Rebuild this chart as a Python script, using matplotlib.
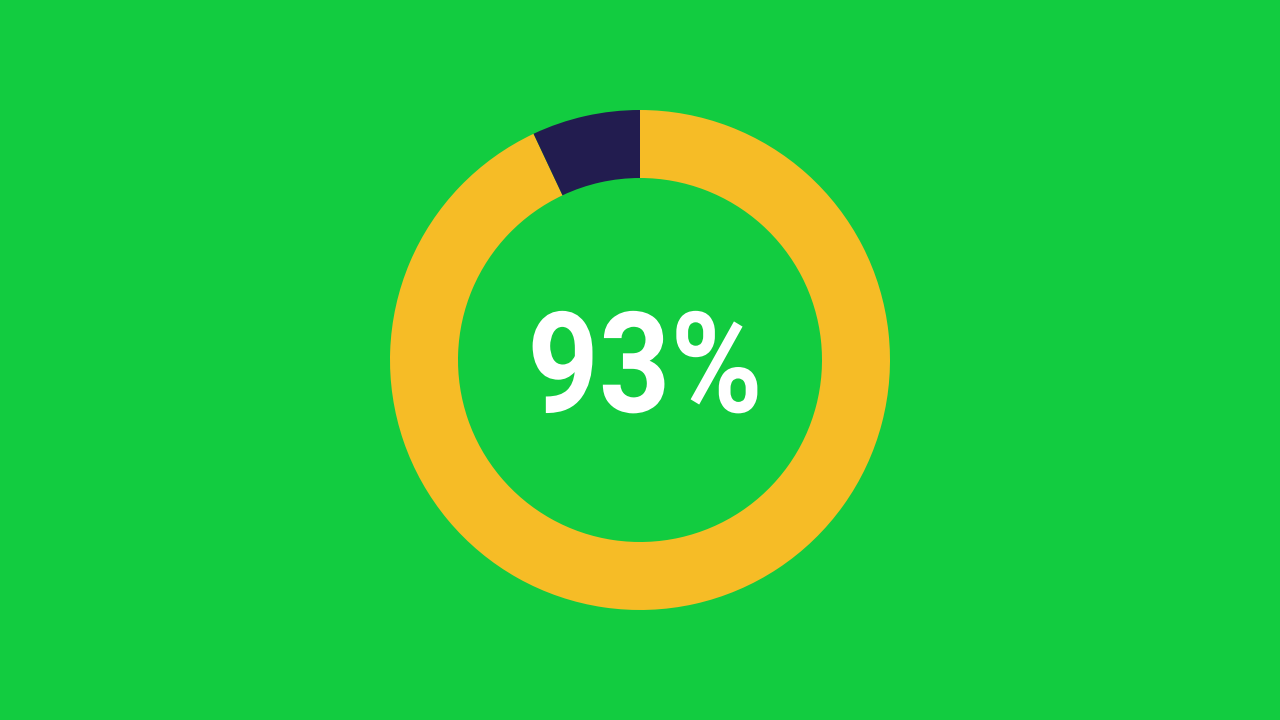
import matplotlib
matplotlib.use("Agg")
import matplotlib.pyplot as plt
from matplotlib.patheffects import AbstractPathEffect
from matplotlib.transforms import Affine2D

labels = ["Complete", "Remaining"]
values = [93, 7]
colors = ["#F6BC26", "#221C4F"]
center_text = "93%"
bg = "#12CC40"


class Squeeze(AbstractPathEffect):
    """Compress glyphs horizontally about a display x position (condensed look)."""
    def __init__(self, sx, cx):
        super().__init__()
        self.sx = sx
        self.cx = cx

    def draw_path(self, renderer, gc, tpath, affine, rgbFace=None):
        aff = affine + Affine2D().translate(-self.cx, 0).scale(self.sx, 1).translate(self.cx, 0)
        renderer.draw_path(gc, tpath, aff, rgbFace)


fig = plt.figure(figsize=(12.8, 7.2), dpi=100, facecolor=bg)
ax = fig.add_axes([0, 0, 1, 1])
ax.set_facecolor(bg)
ax.pie(values, colors=colors, startangle=90, counterclock=False, radius=250,
       center=(0, 0), wedgeprops=dict(width=68, linewidth=0), frame=False)
ax.set_xlim(-640, 640)
ax.set_ylim(-360, 360)
ax.set_aspect("equal")
ax.axis("off")
ax.text(5, -52, center_text, ha="center", va="baseline", color="white",
        fontsize=101, fontweight="bold", family="Roboto",
        path_effects=[Squeeze(0.89, 645)])
fig.savefig("out.png", dpi=100, facecolor=bg)
